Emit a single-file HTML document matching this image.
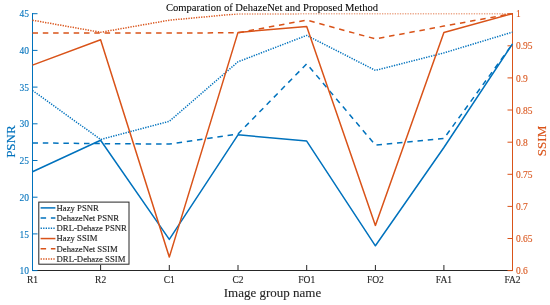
<!DOCTYPE html><html><head><meta charset="utf-8"><style>html,body{margin:0;padding:0;background:#fff;}svg{display:block;filter:blur(0.3px);}text{font-family:"Liberation Serif", "Times New Roman", serif;}</style></head><body>
<svg width="550" height="305" viewBox="0 0 550 305">
<rect width="550" height="305" fill="#fff"/>
<line x1="32.0" y1="270.5" x2="513.0" y2="270.5" stroke="#262626" stroke-width="1"/>
<line x1="100.6" y1="270.5" x2="100.6" y2="265.0" stroke="#262626" stroke-width="1"/>
<line x1="169.3" y1="270.5" x2="169.3" y2="265.0" stroke="#262626" stroke-width="1"/>
<line x1="238.0" y1="270.5" x2="238.0" y2="265.0" stroke="#262626" stroke-width="1"/>
<line x1="306.7" y1="270.5" x2="306.7" y2="265.0" stroke="#262626" stroke-width="1"/>
<line x1="375.4" y1="270.5" x2="375.4" y2="265.0" stroke="#262626" stroke-width="1"/>
<line x1="443.9" y1="270.5" x2="443.9" y2="265.0" stroke="#262626" stroke-width="1"/>
<line x1="32.5" y1="13.0" x2="32.5" y2="271.0" stroke="#0072BD" stroke-width="1"/>
<line x1="512.5" y1="13.0" x2="512.5" y2="271.0" stroke="#D95319" stroke-width="1"/>
<line x1="32.5" y1="270.6" x2="37.5" y2="270.6" stroke="#0072BD" stroke-width="1"/>
<line x1="32.5" y1="233.9" x2="37.5" y2="233.9" stroke="#0072BD" stroke-width="1"/>
<line x1="32.5" y1="197.2" x2="37.5" y2="197.2" stroke="#0072BD" stroke-width="1"/>
<line x1="32.5" y1="160.5" x2="37.5" y2="160.5" stroke="#0072BD" stroke-width="1"/>
<line x1="32.5" y1="123.8" x2="37.5" y2="123.8" stroke="#0072BD" stroke-width="1"/>
<line x1="32.5" y1="87.1" x2="37.5" y2="87.1" stroke="#0072BD" stroke-width="1"/>
<line x1="32.5" y1="50.4" x2="37.5" y2="50.4" stroke="#0072BD" stroke-width="1"/>
<line x1="32.5" y1="13.7" x2="37.5" y2="13.7" stroke="#0072BD" stroke-width="1"/>
<line x1="507.5" y1="270.6" x2="512.5" y2="270.6" stroke="#D95319" stroke-width="1"/>
<line x1="507.5" y1="238.5" x2="512.5" y2="238.5" stroke="#D95319" stroke-width="1"/>
<line x1="507.5" y1="206.4" x2="512.5" y2="206.4" stroke="#D95319" stroke-width="1"/>
<line x1="507.5" y1="174.3" x2="512.5" y2="174.3" stroke="#D95319" stroke-width="1"/>
<line x1="507.5" y1="142.2" x2="512.5" y2="142.2" stroke="#D95319" stroke-width="1"/>
<line x1="507.5" y1="110.0" x2="512.5" y2="110.0" stroke="#D95319" stroke-width="1"/>
<line x1="507.5" y1="77.9" x2="512.5" y2="77.9" stroke="#D95319" stroke-width="1"/>
<line x1="507.5" y1="45.8" x2="512.5" y2="45.8" stroke="#D95319" stroke-width="1"/>
<line x1="507.5" y1="13.7" x2="512.5" y2="13.7" stroke="#D95319" stroke-width="1"/>
<defs><clipPath id="pa"><rect x="0" y="13.5" width="550" height="292"/></clipPath></defs><g clip-path="url(#pa)">
<polyline points="32.50,171.70 100.60,140.20 169.30,239.40 238.00,134.80 306.70,141.10 375.40,245.80 443.90,147.50 512.50,43.90" fill="none" stroke="#0072BD" stroke-width="1.5" stroke-linejoin="round"/>
<polyline points="32.50,142.90 100.60,143.60 169.30,144.10 238.00,134.00 306.70,63.80 375.40,145.10 443.90,138.50 512.50,43.90" fill="none" stroke="#0072BD" stroke-width="1.5" stroke-linejoin="round" stroke-dasharray="5.5 4.8"/>
<polyline points="32.50,90.50 100.60,139.50 169.30,121.30 238.00,61.80 306.70,35.40 375.40,70.40 443.90,52.90 512.50,32.10" fill="none" stroke="#0072BD" stroke-width="1.5" stroke-linejoin="round" stroke-dasharray="1.3 1.25"/>
<polyline points="32.50,65.10 100.60,39.70 169.30,257.10 238.00,32.40 306.70,26.40 375.40,225.40 443.90,32.50 512.50,13.60" fill="none" stroke="#D95319" stroke-width="1.5" stroke-linejoin="round"/>
<polyline points="32.50,33.00 100.60,33.00 169.30,33.00 238.00,32.80 306.70,20.10 375.40,38.90 443.90,26.10 512.50,13.60" fill="none" stroke="#D95319" stroke-width="1.5" stroke-linejoin="round" stroke-dasharray="5.5 4.8"/>
<polyline points="32.50,20.20 100.60,32.30 169.30,20.20 238.00,13.80 306.70,13.60 375.40,13.60 443.90,13.60 512.50,13.60" fill="none" stroke="#D95319" stroke-width="1.5" stroke-linejoin="round" stroke-dasharray="1.3 1.25"/>
</g>
<text x="32.5" y="282.5" font-size="9.5" fill="#262626" stroke="#262626" stroke-width="0.12" text-anchor="middle">R1</text>
<text x="100.6" y="282.5" font-size="9.5" fill="#262626" stroke="#262626" stroke-width="0.12" text-anchor="middle">R2</text>
<text x="169.3" y="282.5" font-size="9.5" fill="#262626" stroke="#262626" stroke-width="0.12" text-anchor="middle">C1</text>
<text x="238.0" y="282.5" font-size="9.5" fill="#262626" stroke="#262626" stroke-width="0.12" text-anchor="middle">C2</text>
<text x="306.7" y="282.5" font-size="9.5" fill="#262626" stroke="#262626" stroke-width="0.12" text-anchor="middle">FO1</text>
<text x="375.4" y="282.5" font-size="9.5" fill="#262626" stroke="#262626" stroke-width="0.12" text-anchor="middle">FO2</text>
<text x="443.9" y="282.5" font-size="9.5" fill="#262626" stroke="#262626" stroke-width="0.12" text-anchor="middle">FA1</text>
<text x="512.5" y="282.5" font-size="9.5" fill="#262626" stroke="#262626" stroke-width="0.12" text-anchor="middle">FA2</text>
<text x="28.9" y="274.2" font-size="9.5" fill="#0072BD" stroke="#0072BD" stroke-width="0.1" text-anchor="end">10</text>
<text x="28.9" y="237.5" font-size="9.5" fill="#0072BD" stroke="#0072BD" stroke-width="0.1" text-anchor="end">15</text>
<text x="28.9" y="200.8" font-size="9.5" fill="#0072BD" stroke="#0072BD" stroke-width="0.1" text-anchor="end">20</text>
<text x="28.9" y="164.1" font-size="9.5" fill="#0072BD" stroke="#0072BD" stroke-width="0.1" text-anchor="end">25</text>
<text x="28.9" y="127.4" font-size="9.5" fill="#0072BD" stroke="#0072BD" stroke-width="0.1" text-anchor="end">30</text>
<text x="28.9" y="90.7" font-size="9.5" fill="#0072BD" stroke="#0072BD" stroke-width="0.1" text-anchor="end">35</text>
<text x="28.9" y="54.0" font-size="9.5" fill="#0072BD" stroke="#0072BD" stroke-width="0.1" text-anchor="end">40</text>
<text x="28.9" y="17.2" font-size="9.5" fill="#0072BD" stroke="#0072BD" stroke-width="0.1" text-anchor="end">45</text>
<text x="515.9" y="274.3" font-size="9.5" fill="#D95319" stroke="#D95319" stroke-width="0.1">0.6</text>
<text x="515.9" y="242.2" font-size="9.5" fill="#D95319" stroke="#D95319" stroke-width="0.1">0.65</text>
<text x="515.9" y="210.1" font-size="9.5" fill="#D95319" stroke="#D95319" stroke-width="0.1">0.7</text>
<text x="515.9" y="177.9" font-size="9.5" fill="#D95319" stroke="#D95319" stroke-width="0.1">0.75</text>
<text x="515.9" y="145.8" font-size="9.5" fill="#D95319" stroke="#D95319" stroke-width="0.1">0.8</text>
<text x="515.9" y="113.7" font-size="9.5" fill="#D95319" stroke="#D95319" stroke-width="0.1">0.85</text>
<text x="515.9" y="81.5" font-size="9.5" fill="#D95319" stroke="#D95319" stroke-width="0.1">0.9</text>
<text x="515.9" y="49.4" font-size="9.5" fill="#D95319" stroke="#D95319" stroke-width="0.1">0.95</text>
<text x="515.9" y="17.3" font-size="9.5" fill="#D95319" stroke="#D95319" stroke-width="0.1">1</text>
<text x="272" y="11" font-size="10.6" fill="#000" stroke="#000" stroke-width="0.06" text-anchor="middle">Comparation of DehazeNet and Proposed Method</text>
<text x="272.5" y="297.3" font-size="13" fill="#262626" stroke="#262626" stroke-width="0.12" text-anchor="middle">Image group name</text>
<text transform="translate(15.1,141.6) rotate(-90)" x="0" y="0" font-size="13" fill="#0072BD" stroke="#0072BD" stroke-width="0.15" text-anchor="middle">PSNR</text>
<text transform="translate(545.9,141) rotate(-90)" x="0" y="0" font-size="13.1" fill="#D95319" stroke="#D95319" stroke-width="0.15" text-anchor="middle">SSIM</text>
<rect x="38.8" y="202.1" width="90.2" height="62.1" fill="#fff" stroke="#262626" stroke-width="1"/>
<line x1="40.6" y1="207.90" x2="55.4" y2="207.90" stroke="#0072BD" stroke-width="1.5"/>
<text x="56.6" y="210.80" font-size="8.7" fill="#262626" stroke="#262626" stroke-width="0.15">Hazy PSNR</text>
<line x1="40.6" y1="218.12" x2="55.4" y2="218.12" stroke="#0072BD" stroke-width="1.5" stroke-dasharray="5.5 4.8"/>
<text x="56.6" y="221.02" font-size="8.7" fill="#262626" stroke="#262626" stroke-width="0.15">DehazeNet PSNR</text>
<line x1="40.6" y1="228.34" x2="55.4" y2="228.34" stroke="#0072BD" stroke-width="1.5" stroke-dasharray="1.3 1.25"/>
<text x="56.6" y="231.24" font-size="8.7" fill="#262626" stroke="#262626" stroke-width="0.15">DRL-Dehaze PSNR</text>
<line x1="40.6" y1="238.56" x2="55.4" y2="238.56" stroke="#D95319" stroke-width="1.5"/>
<text x="56.6" y="241.46" font-size="8.7" fill="#262626" stroke="#262626" stroke-width="0.15">Hazy SSIM</text>
<line x1="40.6" y1="248.78" x2="55.4" y2="248.78" stroke="#D95319" stroke-width="1.5" stroke-dasharray="5.5 4.8"/>
<text x="56.6" y="251.68" font-size="8.7" fill="#262626" stroke="#262626" stroke-width="0.15">DehazeNet SSIM</text>
<line x1="40.6" y1="259.00" x2="55.4" y2="259.00" stroke="#D95319" stroke-width="1.5" stroke-dasharray="1.3 1.25"/>
<text x="56.6" y="261.90" font-size="8.7" fill="#262626" stroke="#262626" stroke-width="0.15">DRL-Dehaze SSIM</text>
</svg></body></html>
